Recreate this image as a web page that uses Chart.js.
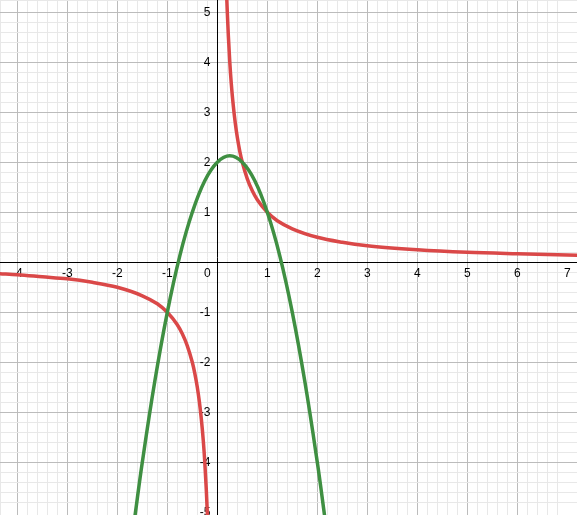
<!DOCTYPE html>
<html lang="en">
<head>
  <meta charset="UTF-8">
  <title>Graph</title>
  <script src="https://cdn.jsdelivr.net/npm/chart.js"></script>
  <style>
    html, body { margin: 0; padding: 0; background: #fff; overflow: hidden; }
    #wrap { width: 577px; height: 515px; }
  </style>
</head>
<body>
  <div id="wrap"><canvas id="grafico"></canvas></div>

  <script>
    // visible window of the graph
    const xRange = [-4.346, 7.194];
    const yRange = [-5.054, 5.246];

    // axis labels
    const xTickLabels = [-4, -3, -2, -1, 1, 2, 3, 4, 5, 6, 7];
    const yTickLabels = [-5, -4, -3, -2, -1, 1, 2, 3, 4, 5];

    // green parabola, points
    const parabolaX = [-1.65, -1.5, -1.25, -1, -0.75, -0.5, -0.25, 0, 0.25, 0.5, 0.75, 1, 1.25, 1.5, 1.75, 2, 2.15];
    const parabolaY = [-5.1, -4, -2.38, -1, 0.13, 1, 1.63, 2, 2.13, 2, 1.63, 1, 0.13, -1, -2.38, -4, -5.1];

    // red hyperbola, right branch
    const hypRightX = [0.19, 0.2, 0.22, 0.25, 0.28, 0.32, 0.36, 0.4, 0.45, 0.5, 0.6, 0.7, 0.8, 1, 1.2, 1.5, 2, 2.5, 3, 4, 5, 6, 7.2];
    const hypRightY = [5.26, 5, 4.55, 4, 3.57, 3.13, 2.78, 2.5, 2.22, 2, 1.67, 1.43, 1.25, 1, 0.83, 0.67, 0.5, 0.4, 0.33, 0.25, 0.2, 0.17, 0.14];

    // red hyperbola, left branch
    const hypLeftX = [-4.35, -4, -3.5, -3, -2.5, -2, -1.5, -1.2, -1, -0.8, -0.7, -0.6, -0.5, -0.45, -0.4, -0.36, -0.32, -0.28, -0.25, -0.22, -0.2, -0.195];
    const hypLeftY = [-0.23, -0.25, -0.29, -0.33, -0.4, -0.5, -0.67, -0.83, -1, -1.25, -1.43, -1.67, -2, -2.22, -2.5, -2.78, -3.13, -3.57, -4, -4.55, -5, -5.13];

    const toPoints = (xs, ys) => xs.map((x, i) => ({ x: x, y: ys[i] }));

    const isMajor = v => Math.abs(v - Math.round(v)) < 1e-6;
    const gridColor = ctx => {
      const v = ctx.tick ? ctx.tick.value : 0;
      return isMajor(v) ? '#bcbcbc' : '#e8e8e8';
    };

    // axes through the origin with their numbers
    const axesPlugin = {
      id: 'origemAxes',
      beforeDatasetsDraw(chart) {
        const { ctx, chartArea, scales } = chart;
        const x0 = scales.x.getPixelForValue(0);
        const y0 = scales.y.getPixelForValue(0);
        ctx.save();
        ctx.strokeStyle = '#000';
        ctx.lineWidth = 1;
        ctx.beginPath();
        ctx.moveTo(chartArea.left, Math.round(y0) + 0.5);
        ctx.lineTo(chartArea.right, Math.round(y0) + 0.5);
        ctx.moveTo(Math.round(x0) + 0.5, chartArea.top);
        ctx.lineTo(Math.round(x0) + 0.5, chartArea.bottom);
        ctx.stroke();

        ctx.fillStyle = '#000';
        ctx.font = '12px "Liberation Sans", Arial, sans-serif';
        ctx.textBaseline = 'middle';
        ctx.textAlign = 'center';
        xTickLabels.forEach(v => {
          ctx.fillText(String(v), scales.x.getPixelForValue(v), y0 + 11);
        });
        ctx.fillText('0', x0 - 10, y0 + 11);
        ctx.textAlign = 'right';
        yTickLabels.forEach(v => {
          ctx.fillText(String(v), x0 - 7, scales.y.getPixelForValue(v));
        });
        ctx.restore();
      }
    };

    const serie = (pts, color, order, mode) => ({
      data: pts,
      showLine: true,
      borderColor: color,
      borderWidth: 3.5,
      pointRadius: 0,
      fill: false,
      order: order,
      cubicInterpolationMode: mode,
      tension: 0.4
    });

    new Chart(document.getElementById('grafico'), {
      type: 'scatter',
      data: {
        datasets: [
          serie(toPoints(parabolaX, parabolaY), '#3f8f42', 1, 'default'),
          serie(toPoints(hypRightX, hypRightY), '#da4848', 2, 'monotone'),
          serie(toPoints(hypLeftX, hypLeftY), '#da4848', 2, 'monotone')
        ]
      },
      options: {
        responsive: true,
        maintainAspectRatio: false,
        animation: false,
        layout: { padding: 0 },
        plugins: {
          legend: { display: false },
          tooltip: { enabled: false }
        },
        scales: {
          x: {
            type: 'linear',
            min: xRange[0],
            max: xRange[1],
            border: { display: false },
            grid: { color: gridColor, drawTicks: false, lineWidth: 1 },
            ticks: { display: false, stepSize: 0.2, autoSkip: false }
          },
          y: {
            type: 'linear',
            min: yRange[0],
            max: yRange[1],
            border: { display: false },
            grid: { color: gridColor, drawTicks: false, lineWidth: 1 },
            ticks: { display: false, stepSize: 0.2, autoSkip: false }
          }
        }
      },
      plugins: [axesPlugin]
    });
  </script>
</body>
</html>
